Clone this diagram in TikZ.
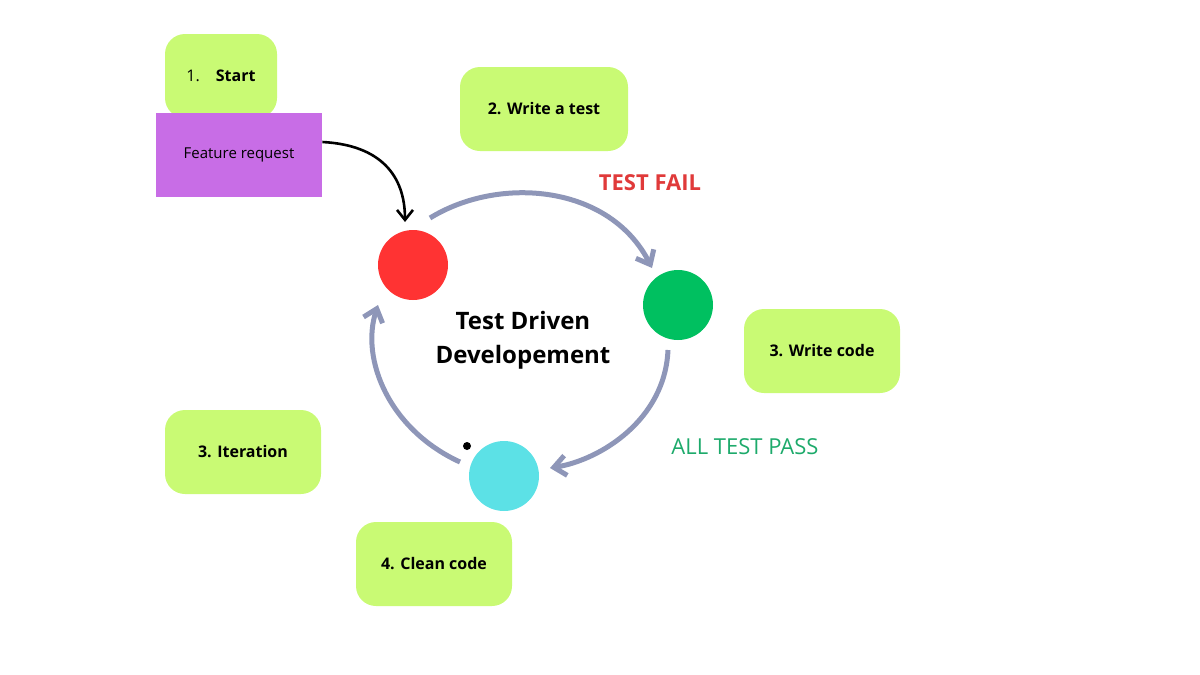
\documentclass[tikz,border=0pt]{standalone}
\usepackage{fontspec}
\setmainfont{Open Sans}
\usetikzlibrary{arrows.meta}
\definecolor{lime}{HTML}{C9FA74}
\definecolor{purp}{HTML}{C86DE6}
\definecolor{arc}{HTML}{8E96B8}
\definecolor{tred}{HTML}{E03A3A}
\definecolor{tgreen}{HTML}{1DAA6B}
\begin{document}
\begin{tikzpicture}[x=0.5pt,y=-0.5pt,
  box/.style={fill=lime,rounded corners=10pt,minimum width=#1,minimum height=42pt,inner sep=0pt,font=\fontsize{8}{9}\selectfont\bfseries},
  dotc/.style={circle,minimum size=35pt,inner sep=0pt},
  cyc/.style={draw=arc,line width=2.5pt,-{Straight Barb[length=6pt,width=10pt]}}]
\useasboundingbox (0,0) rectangle (1200,675);
\node[box=56pt] (start) at (221,76) {\mdseries 1.\quad\bfseries Start};
\node[fill=purp,minimum width=83pt,minimum height=42pt,inner sep=0pt,font=\fontsize{7.5}{9}\selectfont] (feat) at (239,155) {Feature request};
\node[box=84pt] (wt) at (544,109) {2. Write a test};
\node[box=78pt] (wc) at (822,351) {3. Write code};
\node[box=78pt] (it) at (243,452) {3. Iteration};
\node[box=78pt] (cc) at (434,564) {4. Clean code};
\node[dotc,fill={rgb,255:red,255;green,51;blue,51}] (r) at (413,265) {};
\node[dotc,fill={rgb,255:red,0;green,192;blue,96}] (g) at (678,305) {};
\node[dotc,fill={rgb,255:red,92;green,225;blue,230}] (c) at (504,476) {};
\fill (467,446) circle (2pt);
\node[font=\fontsize{11}{13}\selectfont\bfseries,text=tred] (tf) at (650,183) {TEST FAIL};
\node[font=\fontsize{11}{13}\selectfont,text=tgreen] (ap) at (745,447) {ALL TEST PASS};
\node[font=\fontsize{12}{17}\selectfont\bfseries,align=center] (tdd) at (523,340) {Test Driven\\Developement};
\coordinate (a1) at (430,218); \coordinate (a2) at (652,268);
\coordinate (b1) at (668,350); \coordinate (b2) at (550,468);
\coordinate (c1) at (460,462); \coordinate (c2) at (378,305);
\draw[cyc] (a1) .. controls (500,175) and (610,185) .. (a2);
\draw[cyc] (b1) .. controls (665,420) and (600,460) .. (b2);
\draw[cyc] (c1) .. controls (390,430) and (360,360) .. (c2);
\coordinate (k2) at (405,222);
\draw[line width=1.3pt,-{Straight Barb[length=5pt,width=8pt]}] (feat.east |- 0,142) .. controls (380,145) and (405,175) .. (k2);
\end{tikzpicture}
\end{document}
